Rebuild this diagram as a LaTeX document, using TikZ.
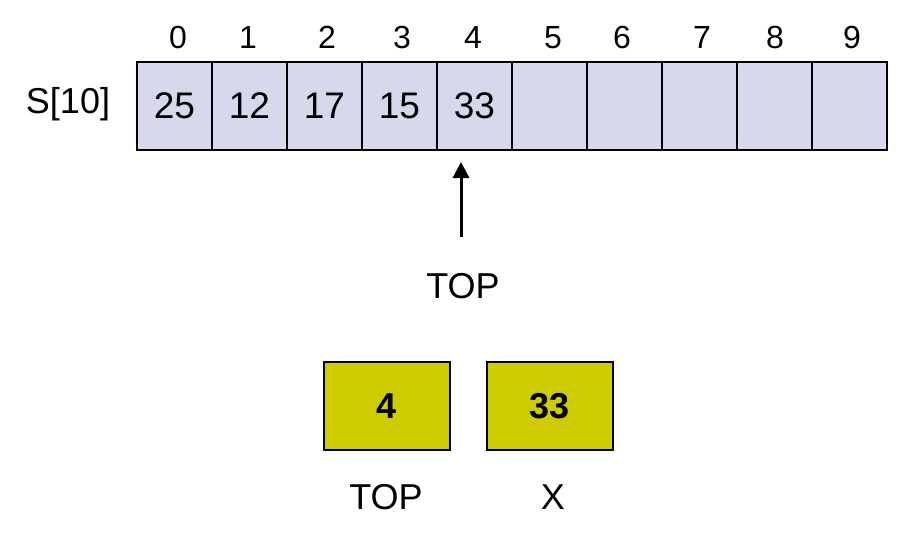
\documentclass[tikz,border=0pt]{standalone}
\usepackage{fontspec}
\setmainfont{Liberation Sans}
\usetikzlibrary{arrows.meta}
\begin{document}
\begin{tikzpicture}[x=1pt,y=-1pt,
  cell/.style={draw=black,line width=2pt,fill=cellfill,minimum width=75pt,minimum height=88pt,inner sep=0pt,font=\fontsize{37}{40}\selectfont,anchor=north west},
  idx/.style={font=\fontsize{32}{36}\selectfont,anchor=base},
  lbl/.style={font=\fontsize{36}{40}\selectfont},
  ybox/.style={draw=black,line width=2pt,fill=boxfill,minimum width=126pt,minimum height=88pt,inner sep=0pt,font=\fontsize{36}{40}\selectfont\bfseries,anchor=north west}]
\definecolor{cellfill}{RGB}{216,216,236}
\definecolor{boxfill}{RGB}{204,204,0}
\useasboundingbox (0,0) rectangle (898,543);
\fill[white] (0,0) rectangle (898,543);
\node[cell] (c0) at (136,61) {25};
\node[cell] (c1) at (211,61) {12};
\node[cell] (c2) at (286,61) {17};
\node[cell] (c3) at (361,61) {15};
\node[cell] (c4) at (436,61) {33};
\node[cell] (c5) at (511,61) {};
\node[cell] (c6) at (586,61) {};
\node[cell] (c7) at (661,61) {};
\node[cell] (c8) at (736,61) {};
\node[cell] (c9) at (811,61) {};
\node[idx] (i0) at (178,49) {0};
\node[idx] (i1) at (248,49) {1};
\node[idx] (i2) at (327,49) {2};
\node[idx] (i3) at (402,49) {3};
\node[idx] (i4) at (473,49) {4};
\node[idx] (i5) at (553,49) {5};
\node[idx] (i6) at (622,49) {6};
\node[idx] (i7) at (702,49) {7};
\node[idx] (i8) at (775,49) {8};
\node[idx] (i9) at (852,49) {9};
\node[lbl] (s) at (68,104) {S[10]};
\node[lbl] (top) at (463,286) {TOP};
\coordinate (tail) at (461,237);
\coordinate (tip) at (461,162);
\draw[line width=3pt,-{Triangle[length=16pt,width=16pt]}] (tail) -- (tip);
\node[ybox] (b1) at (323,361) {4};
\node[ybox] (b2) at (486,361) {33};
\node[lbl] (t1) at (386,497) {TOP};
\node[lbl] (t2) at (553,497) {X};
\end{tikzpicture}
\end{document}
